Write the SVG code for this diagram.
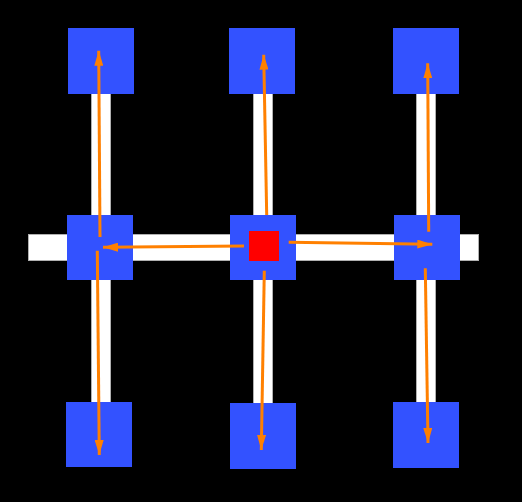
<svg xmlns="http://www.w3.org/2000/svg" width="522" height="502" viewBox="0 0 522 502">
<style>
.bar{fill:#ffffff;stroke:#b0b0b0;stroke-width:1}
.node{fill:#3352ff}
.edge{stroke:#ff8000;stroke-width:3;fill:none;marker-end:url(#ah)}
</style>
<defs>
<marker id="ah" viewBox="0 0 10 6" refX="10" refY="3" markerWidth="5" markerHeight="3" markerUnits="strokeWidth" orient="auto">
<path d="M0,0 L10,3 L0,6 Z" fill="#ff8000"/>
</marker>
</defs>
<rect x="0" y="0" width="522" height="502" fill="#000000"/>
<g id="bars">
<rect class="bar" x="28.5" y="234.5" width="450" height="26"/>
<rect class="bar" x="91.5" y="90" width="19" height="316"/>
<rect class="bar" x="253.5" y="90" width="19" height="316"/>
<rect class="bar" x="416.5" y="90" width="19" height="316"/>
</g>
<g id="n-tl"><rect class="node" x="68" y="28" width="66" height="66"/></g>
<g id="n-tm"><rect class="node" x="229" y="28" width="66" height="66"/></g>
<g id="n-tr"><rect class="node" x="393" y="28" width="66" height="66"/></g>
<g id="n-ml"><rect class="node" x="67" y="215" width="66" height="65"/></g>
<g id="n-mc"><rect class="node" x="230" y="215" width="66" height="65"/><rect x="249" y="231" width="30" height="30" fill="#ff0000"/></g>
<g id="n-mr"><rect class="node" x="394" y="215" width="66" height="65"/></g>
<g id="n-bl"><rect class="node" x="66" y="402" width="66" height="65"/></g>
<g id="n-bm"><rect class="node" x="230" y="403" width="66" height="66"/></g>
<g id="n-br"><rect class="node" x="393" y="402" width="66" height="66"/></g>
<g id="connectors">
<line class="edge" x1="100" y1="237" x2="98.7" y2="50.7"/>
<line class="edge" x1="97.3" y1="250.7" x2="99.3" y2="455"/>
<line class="edge" x1="244" y1="246" x2="103" y2="247.3"/>
<line class="edge" x1="288.7" y1="242.3" x2="432.3" y2="244.3"/>
<line class="edge" x1="266.7" y1="215" x2="263.7" y2="54.7"/>
<line class="edge" x1="264.3" y1="270.7" x2="261.3" y2="450"/>
<line class="edge" x1="428.7" y1="231.7" x2="427.7" y2="63.3"/>
<line class="edge" x1="425.3" y1="268.3" x2="428" y2="443"/>
</g>
</svg>
